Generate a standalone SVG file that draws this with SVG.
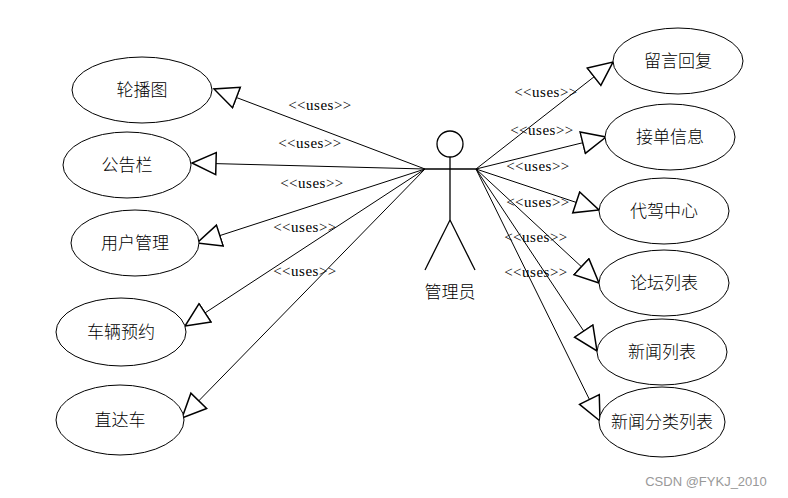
<svg xmlns="http://www.w3.org/2000/svg" width="788" height="498" viewBox="0 0 788 498">
<defs>
<style>
.n ellipse{fill:#fff;stroke:#000;stroke-width:1}
.n text,.a text{font-family:"Noto Sans CJK SC","Noto Sans",sans-serif;font-weight:300;font-size:17px;text-anchor:middle;fill:#000}
.c line{stroke:#000;stroke-width:1;marker-end:url(#tri)}
.u text{font-family:"Liberation Serif",serif;font-size:15px;letter-spacing:0.5px;text-anchor:middle;fill:#000}
.a circle,.a line{fill:#fff;stroke:#000;stroke-width:1.3}
</style>
<marker id="tri" markerUnits="userSpaceOnUse" markerWidth="30" markerHeight="26" refX="25" refY="12" orient="auto" viewBox="0 0 30 26">
<path d="M1,1 L25,12 L1,23 Z" fill="#fff" stroke="#000" stroke-width="1.5"/>
</marker>
</defs>
<rect width="788" height="498" fill="#fff"/>
<g class="c">
<line x1="425" y1="169" x2="214" y2="89"/>
<line x1="425" y1="169" x2="192" y2="163"/>
<line x1="425" y1="169" x2="197" y2="243"/>
<line x1="425" y1="169" x2="185" y2="326"/>
<line x1="425" y1="169" x2="182" y2="418"/>
<line x1="476" y1="169" x2="613" y2="62"/>
<line x1="476" y1="169" x2="606" y2="137"/>
<line x1="476" y1="169" x2="599" y2="210"/>
<line x1="476" y1="169" x2="599" y2="283"/>
<line x1="476" y1="169" x2="597" y2="351"/>
<line x1="476" y1="169" x2="600" y2="421"/>
</g>
<g class="u">
<text x="320" y="110">&lt;&lt;uses&gt;&gt;</text>
<text x="310" y="148">&lt;&lt;uses&gt;&gt;</text>
<text x="312" y="188">&lt;&lt;uses&gt;&gt;</text>
<text x="305" y="232">&lt;&lt;uses&gt;&gt;</text>
<text x="305" y="276">&lt;&lt;uses&gt;&gt;</text>
<text x="546" y="97">&lt;&lt;uses&gt;&gt;</text>
<text x="542" y="135">&lt;&lt;uses&gt;&gt;</text>
<text x="538" y="171">&lt;&lt;uses&gt;&gt;</text>
<text x="538" y="207">&lt;&lt;uses&gt;&gt;</text>
<text x="536" y="242">&lt;&lt;uses&gt;&gt;</text>
<text x="536" y="277">&lt;&lt;uses&gt;&gt;</text>
</g>
<g id="actor" class="a">
<circle cx="450" cy="144" r="13"/>
<line x1="450" y1="157" x2="450" y2="220"/>
<line x1="425" y1="169" x2="476" y2="169"/>
<line x1="450" y1="220" x2="425" y2="270"/>
<line x1="450" y1="220" x2="475" y2="270"/>
<text x="450" y="298">管理员</text>
</g>
<g id="n1" class="n"><ellipse cx="142" cy="90" rx="70" ry="33"/><text x="142" y="96">轮播图</text></g>
<g id="n2" class="n"><ellipse cx="127" cy="165" rx="64" ry="33"/><text x="127" y="171">公告栏</text></g>
<g id="n3" class="n"><ellipse cx="135" cy="243" rx="64" ry="33"/><text x="135" y="249">用户管理</text></g>
<g id="n4" class="n"><ellipse cx="121" cy="332" rx="65" ry="34"/><text x="121" y="338">车辆预约</text></g>
<g id="n5" class="n"><ellipse cx="120" cy="420" rx="64" ry="35"/><text x="120" y="426">直达车</text></g>
<g id="n6" class="n"><ellipse cx="678" cy="61" rx="65" ry="33"/><text x="678" y="67">留言回复</text></g>
<g id="n7" class="n"><ellipse cx="670" cy="137" rx="65" ry="33"/><text x="670" y="143">接单信息</text></g>
<g id="n8" class="n"><ellipse cx="664" cy="211" rx="65" ry="33"/><text x="664" y="217">代驾中心</text></g>
<g id="n9" class="n"><ellipse cx="664" cy="283" rx="65" ry="33"/><text x="664" y="289">论坛列表</text></g>
<g id="n10" class="n"><ellipse cx="662" cy="352" rx="65" ry="33"/><text x="662" y="358">新闻列表</text></g>
<g id="n11" class="n"><ellipse cx="662" cy="422" rx="63" ry="35"/><text x="662" y="428">新闻分类列表</text></g>
<text x="706" y="486" font-family="Liberation Sans,sans-serif" font-size="13" fill="#999" text-anchor="middle">CSDN @FYKJ_2010</text>
</svg>
